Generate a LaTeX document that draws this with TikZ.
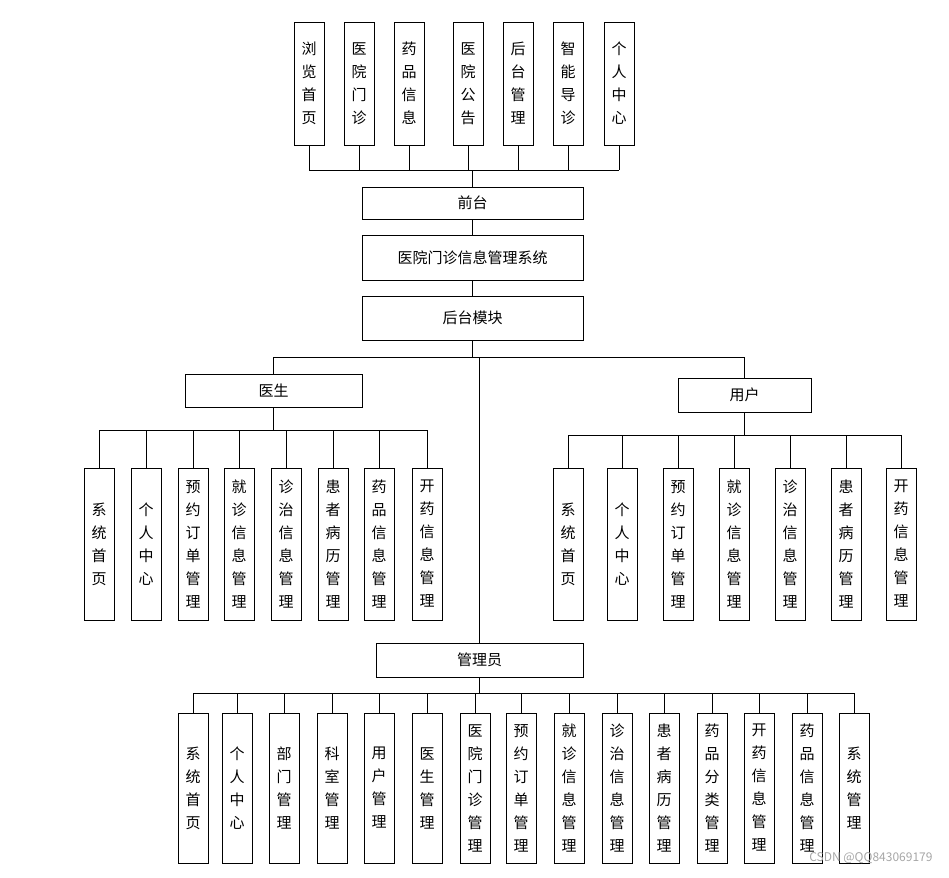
\documentclass[tikz,border=0pt]{standalone}
\usepackage{fontspec}
\setmainfont{Noto Sans CJK SC}
\begin{document}
\begin{tikzpicture}[x=1pt,y=-1pt,
  box/.style={draw,thick,inner sep=0pt,font=\fontsize{15}{23}\selectfont},
  vbox/.style={box,minimum width=30pt,align=center},
  line/.style={thick}]
\useasboundingbox (0,0) rectangle (949,877);
\newcommand{\vt}[1]{\parbox{1.2em}{\centering #1}}
% top
\foreach \n/\x/\t in {t1/309/浏\\览\\首\\页, t2/359/医\\院\\门\\诊, t3/409/药\\品\\信\\息, t4/468/医\\院\\公\\告, t5/518/后\\台\\管\\理, t6/568/智\\能\\导\\诊, t7/619/个\\人\\中\\心}
  \node[vbox,minimum height=123pt] (\n) at (\x,83.5) {\t};
\node[box,minimum width=221pt,minimum height=32pt] (qt) at (472.5,203) {前台};
\node[box,minimum width=221pt,minimum height=45pt] (sys) at (472.5,257.5) {医院门诊信息管理系统};
\node[box,minimum width=221pt,minimum height=44pt] (ht) at (472.5,318) {后台模块};
\coordinate (tb) at (0,170);
\foreach \n in {t1,t2,t3,t4,t5,t6,t7} \draw[line] (\n.south) -- (\n.south |- tb);
\draw[line] (t1.south |- tb) -- (t7.south |- tb);
\draw[line] (qt.north) -- (qt.north |- tb);
\draw[line] (qt) -- (sys); \draw[line] (sys) -- (ht);
% level 2
\coordinate (mb) at (0,357);
\node[box,minimum width=177pt,minimum height=33pt] (ys) at (273.5,390.5) {医生};
\node[box,minimum width=133pt,minimum height=34pt] (yh) at (744.5,395) {用户};
\node[box,minimum width=207pt,minimum height=34pt] (gl) at (479.5,660) {管理员};
\draw[line] (ht.south) -- (ht.south |- mb);
\draw[line] (ys.north |- mb) -- (yh.north |- mb);
\draw[line] (ys.north) -- (ys.north |- mb);
\draw[line] (yh.north) -- (yh.north |- mb);
\draw[line] (gl.north) -- (gl.north |- mb);
% doctor children
\coordinate (db) at (0,430);
\foreach \n/\x/\t in {d1/99/系\\统\\首\\页, d2/146/个\\人\\中\\心, d3/193/预\\约\\订\\单\\管\\理, d4/239/就\\诊\\信\\息\\管\\理, d5/286/诊\\治\\信\\息\\管\\理, d6/333/患\\者\\病\\历\\管\\理, d7/379/药\\品\\信\\息\\管\\理, d8/427/开\\药\\信\\息\\管\\理}{
  \node[vbox,minimum height=152pt] (\n) at (\x,544) {\t};
  \draw[line] (\n.north) -- (\n.north |- db);}
\draw[line] (d1.north |- db) -- (d8.north |- db);
\draw[line] (ys.south) -- (ys.south |- db);
% user children
\coordinate (ub) at (0,435);
\foreach \n/\x/\t in {u1/568/系\\统\\首\\页, u2/622/个\\人\\中\\心, u3/678/预\\约\\订\\单\\管\\理, u4/734/就\\诊\\信\\息\\管\\理, u5/790/诊\\治\\信\\息\\管\\理, u6/846/患\\者\\病\\历\\管\\理, u7/901/开\\药\\信\\息\\管\\理}{
  \node[vbox,minimum height=152pt] (\n) at (\x,544) {\t};
  \draw[line] (\n.north) -- (\n.north |- ub);}
\draw[line] (u1.north |- ub) -- (u7.north |- ub);
\draw[line] (yh.south) -- (yh.south |- ub);
% admin children
\coordinate (ab) at (0,693);
\foreach \n/\x/\t in {a1/193/系\\统\\首\\页, a2/237/个\\人\\中\\心, a3/284/部\\门\\管\\理, a4/332/科\\室\\管\\理, a5/379/用\\户\\管\\理, a6/427/医\\生\\管\\理, a7/475/医\\院\\门\\诊\\管\\理, a8/521/预\\约\\订\\单\\管\\理, a9/569/就\\诊\\信\\息\\管\\理, a10/617/诊\\治\\信\\息\\管\\理, a11/664/患\\者\\病\\历\\管\\理, a12/712/药\\品\\分\\类\\管\\理, a13/759/开\\药\\信\\息\\管\\理, a14/807/药\\品\\信\\息\\管\\理, a15/854/系\\统\\管\\理}{
  \node[vbox,minimum height=150pt] (\n) at (\x,788) {\t};
  \draw[line] (\n.north) -- (\n.north |- ab);}
\draw[line] (a1.north |- ab) -- (a15.north |- ab);
\draw[line] (gl.south) -- (gl.south |- ab);
\node[text=gray!70,font=\fontsize{12}{12}\selectfont,anchor=east] (wm) at (936,858) {CSDN @QQ843069179};
\end{tikzpicture}
\end{document}
